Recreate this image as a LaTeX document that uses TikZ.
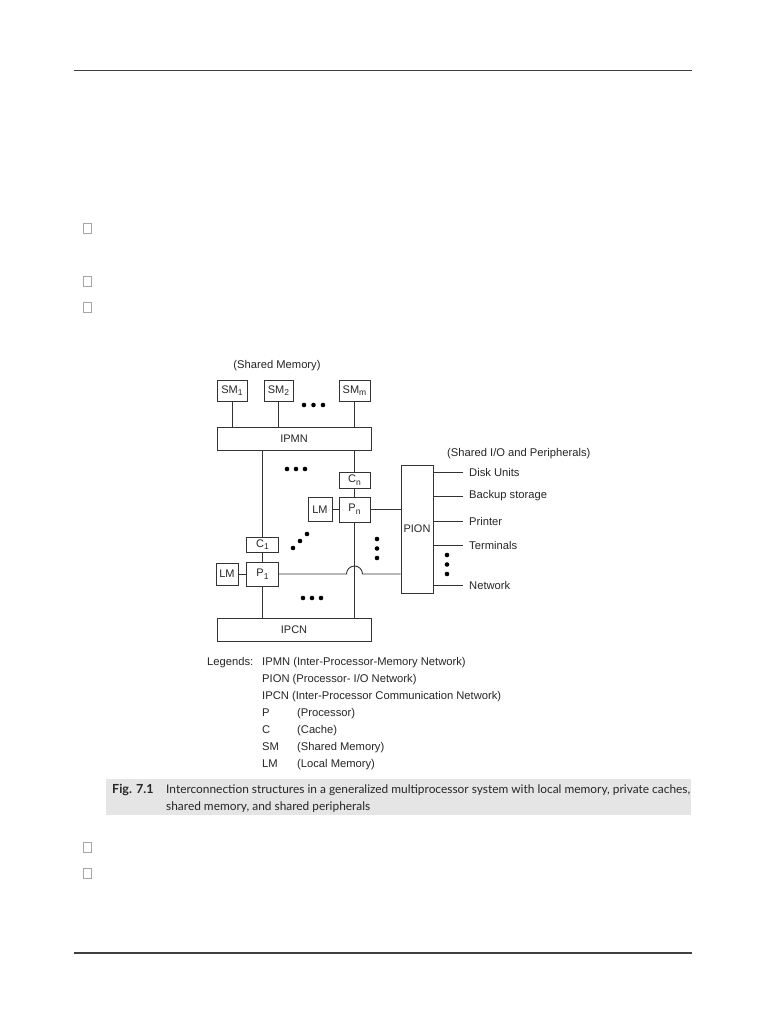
\documentclass[tikz,border=0pt]{standalone}
\usepackage{fontspec}
\setmainfont{Liberation Sans}
\newfontfamily\capfont{Lato}
\usetikzlibrary{calc}
\newcommand{\mysub}[1]{\raisebox{-0.45ex}{\fontsize{8.5}{9}\selectfont #1}}
\begin{document}
\begin{tikzpicture}[x=1pt,y=-1pt,
  box/.style={draw=black!80, line width=0.9pt, inner sep=0pt, font=\fontsize{11}{13}\selectfont, text=black!85},
  ln/.style={draw=black!80, line width=0.9pt},
  dotc/.style={fill=black},
  txt/.style={inner sep=0pt, font=\fontsize{11.2}{13}\selectfont, text=black!85},
  legtxt/.style={txt, anchor=base west},
  captxt/.style={inner sep=0pt, font=\capfont\fontsize{11.9}{14}\selectfont, text=black!85},
  pagerule/.style={draw=black!75, line width=1.4pt},
  ph/.style={draw=black!35, line width=0.8pt}]
\useasboundingbox[fill=white] (0,0) rectangle (768,1024);

% page rules
\draw[pagerule] (74,70.5) -- (692,70.5);
\draw[pagerule] (74,953) -- (692,953);

% placeholder glyphs
\draw[ph] (83.5,223) rectangle (91,233);
\draw[ph] (83.5,276) rectangle (91,286);
\draw[ph] (83.5,302) rectangle (91,312);
\draw[ph] (83.5,842) rectangle (91,852);
\draw[ph] (83.5,868) rectangle (91,878);

% shared memory
\node[txt] (smlabel) at (277,366) {(Shared Memory)};
\node[box, minimum width=30pt, minimum height=21pt] (sm1) at (232,390.5) {SM\mysub{1}};
\node[box, minimum width=29pt, minimum height=21pt] (sm2) at (278.5,390.5) {SM\mysub{2}};
\node[box, minimum width=31pt, minimum height=21pt] (smm) at (354.5,390.5) {SM\mysub{m}};
\node[box, minimum width=154pt, minimum height=23pt] (ipmn) at (294,438.5) {IPMN};
\node[box, minimum width=154pt, minimum height=23pt] (ipcn) at (294,629.5) {IPCN};

% processors
\node[box, minimum width=31pt, minimum height=16pt] (cn) at (354.5,480) {C\mysub{n}};
\node[box, minimum width=31pt, minimum height=25pt] (pn) at (354.5,509.5) {P\mysub{n}};
\node[box, minimum width=24pt, minimum height=24pt] (lmn) at (320,509.5) {LM};
\node[box, minimum width=32pt, minimum height=15pt] (c1) at (262.5,544.5) {C\mysub{1}};
\node[box, minimum width=32pt, minimum height=24pt] (p1) at (262.5,574) {P\mysub{1}};
\node[box, minimum width=22pt, minimum height=22pt] (lm1) at (227,574) {LM};

% PION
\node[box, minimum width=32pt, minimum height=128pt] (pion) at (417,529) {PION};

% connections
\draw[ln] (sm1.south) -- (sm1.south |- ipmn.north);
\draw[ln] (sm2.south) -- (sm2.south |- ipmn.north);
\draw[ln] (smm.south) -- (smm.south |- ipmn.north);
\draw[ln] (c1.north |- ipmn.south) -- (c1.north);
\draw[ln] (c1.south) -- (p1.north);
\draw[ln] (p1.south) -- (p1.south |- ipcn.north);
\draw[ln] (cn.north |- ipmn.south) -- (cn.north);
\draw[ln] (cn.south) -- (pn.north);
\draw[ln] (pn.south) -- (pn.south |- ipcn.north);
\draw[ln] (lm1.east) -- (p1.west);
\draw[ln] (lmn.east) -- (pn.west);
\draw[ln] (pn.east) -- (pn.east -| pion.west);
\draw[ln] (p1.east) -- ($(pn.south |- p1.east)+(-8,0)$) arc[start angle=180, end angle=0, radius=8pt] -- (p1.east -| pion.west);

% peripherals
\node[txt, anchor=west] (iolabel) at (447,454) {(Shared I/O and Peripherals)};
\node[txt, anchor=west] (disk) at (469,472) {Disk Units};
\node[txt, anchor=west] (backup) at (469,496) {Backup storage};
\node[txt, anchor=west] (printer) at (469,521) {Printer};
\node[txt, anchor=west] (term) at (469,545.5) {Terminals};
\node[txt, anchor=west] (net) at (469,585) {Network};
\foreach \t in {disk,backup,printer,term,net}
  \draw[ln, shorten >=6pt] (pion.east |- \t.west) -- (\t.west);

% dots
\foreach \p in {(304,405),(313.5,405),(323,405),
                (287,469),(296,469),(305,469),
                (293,548),(300,541),(307,534),
                (377,539),(377,548.5),(377,558),
                (303,598),(312,598),(321,598),
                (447,555),(447,564.5),(447,574)}
  \fill[dotc] \p circle (2.3pt);

% legend
\node[legtxt] (leg) at (207,665) {Legends:};
\node[legtxt] (l1) at (262,665) {IPMN (Inter-Processor-Memory Network)};
\node[legtxt] (l2) at (262,682) {PION (Processor- I/O Network)};
\node[legtxt] (l3) at (262,699) {IPCN (Inter-Processor Communication Network)};
\node[legtxt] (l4a) at (262,716) {P};
\node[legtxt] (l4b) at (297,716) {(Processor)};
\node[legtxt] (l5a) at (262,733) {C};
\node[legtxt] (l5b) at (297,733) {(Cache)};
\node[legtxt] (l6a) at (262,750) {SM};
\node[legtxt] (l6b) at (297,750) {(Shared Memory)};
\node[legtxt] (l7a) at (262,767) {LM};
\node[legtxt] (l7b) at (297,767) {(Local Memory)};

% caption
\fill[black!10] (106,779) rectangle (691,815);
\node[captxt, anchor=west, font=\capfont\bfseries\fontsize{12.5}{14}\selectfont] (fig) at (112,790) {Fig. 7.1};
\node[captxt, anchor=west] (cap1) at (166,790) {Interconnection structures in a generalized multiprocessor system with local memory, private caches,};
\node[captxt, anchor=west] (cap2) at (166,807) {shared memory, and shared peripherals};
\end{tikzpicture}
\end{document}
